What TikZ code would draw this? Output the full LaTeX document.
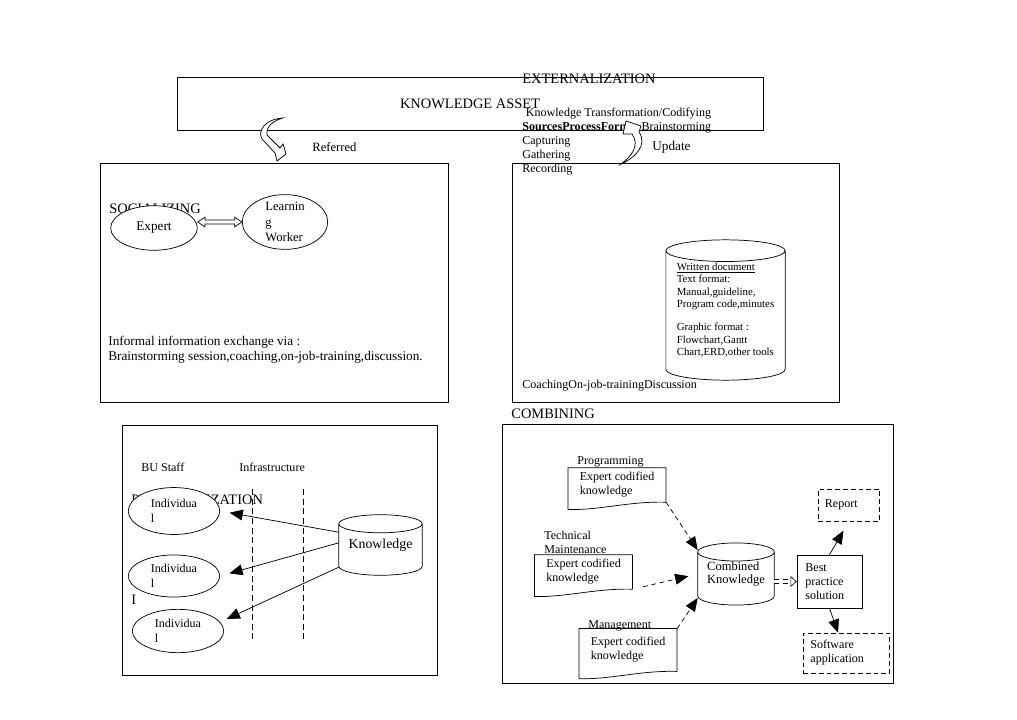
\documentclass[tikz,border=0pt]{standalone}
\usepackage{fontspec}
\setmainfont{Liberation Serif}
\usetikzlibrary{shapes.geometric,arrows.meta,calc}

\tikzset{
  txt/.style={anchor=west, inner sep=0pt, align=left, font=\fontsize{10}{11.6}\selectfont},
  bigtxt/.style={txt, font=\fontsize{12}{14}\selectfont},
  blob/.style={ellipse, draw, fill=white, inner sep=0pt, align=left, font=\fontsize{10}{12.4}\selectfont},
  drumbox/.style={inner sep=0pt, align=left},
  docbox/.style={inner sep=0pt, align=left, minimum width=81pt, font=\fontsize{10}{11.6}\selectfont},
  cell/.style={draw, inner sep=0pt, align=left, font=\fontsize{10}{11.6}\selectfont},
  dashcell/.style={cell, dash pattern=on 4pt off 2.5pt},
  bigtip/.style={-{Triangle[length=11pt,width=9pt]}},
  dashline/.style={dash pattern=on 4pt off 3pt},
}

\newcommand{\drumline}[2]{%
  \draw let \p1=(#1.north west), \p2=(#1.south east), \n1={(\x2-\x1)/2} in
    (\x1,\y1-#2) -- (\x1,\y2+#2) arc[start angle=180, end angle=360, x radius=\n1, y radius=#2] -- (\x2,\y1-#2)
    ([yshift=-#2]#1.north) ellipse[x radius=\n1, y radius=#2];}

\newcommand{\docline}[1]{%
  \draw (#1.south east) -- (#1.north east) -- (#1.north west) -- ([yshift=-6pt]#1.south west)
    .. controls ([xshift=25pt,yshift=-7pt]#1.south west) and ([xshift=-30pt,yshift=1pt]#1.south east) .. (#1.south east);}

\begin{document}
\begin{tikzpicture}[x=0.0292cm, y=0.0292cm, line width=0.6pt]
\useasboundingbox (0,0) rectangle (1017,-719);

\draw (177,-77) rectangle (763,-130);
\node[bigtxt, anchor=center] (asset) at (470,-104) {KNOWLEDGE ASSET};
\node[bigtxt] (ext) at (522,-79) {EXTERNALIZATION};
\node[txt, font=\fontsize{10}{11.8}\selectfont] (extlist) at (522,-141.5) {\hspace*{3pt}Knowledge Transformation/Codifying\\\textbf{SourcesProcessForm}\quad Brainstorming\\Capturing\\Gathering\\Recording};

% referred / update arrows
\draw[fill=white] (283,-118) .. controls (266,-119) and (257,-130) .. (262,-139) -- (275,-153) -- (277,-161) -- (286,-154) -- (283,-144) -- (280,-148) -- (267,-135) .. controls (266,-127) and (272,-121) .. (283,-118) -- cycle;
\node[txt, font=\fontsize{10.5}{12}\selectfont] (referred) at (312,-147) {Referred};
\draw[fill=white] (621,-164) .. controls (635,-158) and (648,-145) .. (639,-132) -- (641,-126) -- (626,-121) -- (623,-134) -- (632,-134) .. controls (640,-145) and (632,-156) .. (621,-164) -- cycle;
\node[txt, font=\fontsize{11}{13}\selectfont] (update) at (652,-147) {Update};

\draw (100,-163) rectangle (448,-402);
\node[bigtxt] (soc) at (109,-209) {SOCIALIZING};
\node[blob, minimum width=72pt, minimum height=37pt, font=\fontsize{11}{13}\selectfont] (expert) at (154,-228) {Expert};
\node[blob, minimum width=71pt, minimum height=45.5pt, inner ysep=-2pt, font=\fontsize{10.5}{12.8}\selectfont] (worker) at (285,-222) {Learnin\\g\\Worker};
\draw let \p1=(expert.east |- worker.west), \p2=(worker.west) in
  (\x1,\y1) -- (\x1+6pt,\y1+4pt) -- (\x1+6pt,\y1+1.7pt) -- (\x2-6pt,\y1+1.7pt) -- (\x2-6pt,\y1+4pt) -- (\x2,\y1)
  -- (\x2-6pt,\y1-4pt) -- (\x2-6pt,\y1-1.7pt) -- (\x1+6pt,\y1-1.7pt) -- (\x1+6pt,\y1-4pt) -- cycle;
\node[txt, font=\fontsize{11}{12.5}\selectfont] (informal) at (108,-349.5) {Informal information exchange via :\\Brainstorming session,coaching,on-job-training,discussion.};

\draw (512,-163) rectangle (839,-402);
\node[drumbox, minimum width=98.5pt, minimum height=116pt, font=\fontsize{9}{10.4}\selectfont] (wdoc) at (725.5,-310) {\underline{Written document}\\Text format:\\Manual,guideline,\\Program code,minutes\\[8.6pt]Graphic format :\\Flowchart,Gantt\\Chart,ERD,other tools};
\drumline{wdoc}{9pt}
\node[txt] (coach) at (522,-386) {CoachingOn-job-trainingDiscussion};
\node[bigtxt] (combtitle) at (511,-414) {COMBINING};

\draw (122,-425) rectangle (437,-675);
\node[txt] (staff) at (141,-467) {BU Staff};
\node[txt] (infra) at (239,-467) {Infrastructure};
\foreach \x in {252,303}
  \draw[dash pattern=on 5pt off 3pt] (\x,-489) -- (\x,-640);
\node[bigtxt] (pers) at (131,-500) {PERSONALIZATION};
\node[bigtxt] (persi) at (131,-600) {I};
\foreach \i/\x/\y/\h in {1/174/511/39, 2/174/576/35, 3/178/631/36}
  \node[blob, minimum width=76pt, minimum height=\h pt] (ind\i) at (\x,-\y) {Individua\\l};
\node[drumbox, minimum width=68.7pt, minimum height=49.7pt, font=\fontsize{11.5}{13}\selectfont] (know) at (380.5,-545) {Knowledge};
\drumline{know}{7.5pt}
\draw[bigtip, shorten >=8pt] (know.163) -- (ind1.east);
\draw[bigtip, shorten >=8pt] (know.177) -- (ind2.east);
\draw[bigtip, shorten >=6pt] (know.208) -- (ind3.12);

\draw (502,-424) rectangle (893,-683);
\node[txt] (prog) at (577,-462) {Programming};
\node[docbox, minimum height=28pt] (doc1) at (617,-485) {Expert codified\\knowledge};
\docline{doc1}
\node[txt] (tech) at (544,-542.5) {Technical\\Maintenance};
\node[docbox, minimum height=28pt] (doc2) at (583.5,-572) {Expert codified\\knowledge};
\docline{doc2}
\node[txt] (mgmt) at (588,-626) {Management};
\node[docbox, minimum height=35pt] (doc3) at (628,-650) {Expert codified\\knowledge};
\docline{doc3}
\node[drumbox, minimum width=63pt, minimum height=51pt, font=\fontsize{10.4}{11}\selectfont] (comb) at (736,-574) {Combined\\Knowledge};
\drumline{comb}{7.5pt}
\node[cell, minimum width=54pt, minimum height=44pt, text width=40pt] (best) at (829.5,-581.5) {Best\\practice\\solution};
\node[dashcell, minimum width=51pt, minimum height=26.5pt, text width=40pt] (report) at (849,-505) {Report};
\node[dashcell, minimum width=72pt, minimum height=33pt, text width=60pt] (soft) at (846.5,-653) {Software\\application};

\draw[bigtip, dashline] (doc1.south east) -- (comb.148);
\draw[bigtip, dashline, shorten <=9pt, shorten >=8pt] (doc2.south east) -- (comb.west);
\draw[bigtip, dashline] (doc3.north east) -- (comb.212);
\draw[dashline, double, double distance=3pt, line width=0.5pt, -{Triangle[open,length=5pt,width=9pt]}] (comb.east |- best.west) -- (best.west);
\draw[bigtip, shorten >=9pt] (best.north) -- (report.south);
\draw[bigtip] (best.south) -- ([xshift=-7pt]soft.north);

\end{tikzpicture}
\end{document}
